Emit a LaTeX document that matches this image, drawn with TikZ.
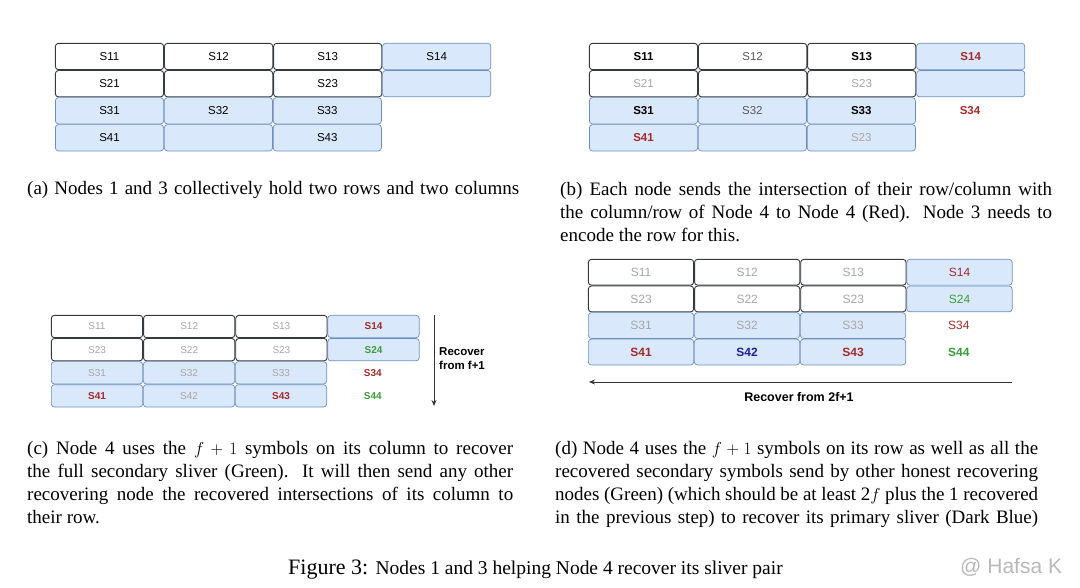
\documentclass[tikz,border=0pt]{standalone}
\usepackage{fontspec}
\setmainfont{Liberation Serif}
\setsansfont{Liberation Sans}
\usepackage{xcolor}
\usetikzlibrary{arrows.meta, positioning}

\definecolor{cellfill}{HTML}{DAE8FC}
\definecolor{celledge}{HTML}{6C8EBF}
\definecolor{gridedge}{HTML}{36393D}
\definecolor{symred}{HTML}{A52A2A}
\definecolor{symgreen}{HTML}{3A9D3A}
\definecolor{symblue}{HTML}{1F1F99}
\definecolor{symgray}{HTML}{A6A6A6}

\begin{document}
\begin{tikzpicture}[
			x=1pt, y=-1pt,
			node distance=0pt,
			cell/.style={rectangle, rounded corners=3pt, inner sep=0pt},
			wcell/.style={cell, draw=gridedge, fill=white, line width=0.9pt},
			bcell/.style={cell, draw=celledge, fill=cellfill, line width=0.7pt},
			ocell/.style={cell},
			faint/.style={text=symgray},
			mid/.style={text=black!65},
			hot/.style={text=symred},
			fresh/.style={text=symgreen},
			prim/.style={text=symblue},
			capt/.style={inner sep=0pt, anchor=north west, align=left,
				font=\fontsize{19}{23}\selectfont},
			note/.style={inner sep=0pt, align=left,
				font=\sffamily\bfseries\fontsize{11.5}{14}\selectfont},
			arr/.style={-{Stealth[length=6pt, width=5pt]}, line width=0.8pt, draw=black!80}
			]
			\useasboundingbox (0,0) rectangle (1080,588);
			
			% (a) what nodes 1 and 3 hold
			\begin{scope}[every node/.append style={minimum width=108.2pt, minimum height=26.3pt,
					font=\sffamily\fontsize{11.5}{13}\selectfont}]
				\node[wcell] (a11) at (109.5,56.5) {S11};
				\node[wcell, right=of a11] (a12) {S12};
				\node[wcell, right=of a12] (a13) {S13};
				\node[bcell, right=of a13] (a14) {S14};
				\node[wcell, below=of a11] (a21) {S21};
				\node[wcell, right=of a21] (a22) {};
				\node[wcell, right=of a22] (a23) {S23};
				\node[bcell, right=of a23] (a24) {};
				\node[bcell, below=of a21] (a31) {S31};
				\node[bcell, right=of a31] (a32) {S32};
				\node[bcell, right=of a32] (a33) {S33};
				\node[bcell, below=of a31] (a41) {S41};
				\node[bcell, right=of a41] (a42) {};
				\node[bcell, right=of a42] (a43) {S43};
			\end{scope}
			
			% (b) intersections sent to node 4
			\begin{scope}[every node/.append style={minimum width=108.2pt, minimum height=26.3pt,
					font=\sffamily\fontsize{11.5}{13}\selectfont}]
				\node[wcell] (b11) at (643.5,56.5) {\bfseries S11};
				\node[wcell, mid, right=of b11] (b12) {S12};
				\node[wcell, right=of b12] (b13) {\bfseries S13};
				\node[bcell, hot, right=of b13] (b14) {\bfseries S14};
				\node[wcell, faint, below=of b11] (b21) {S21};
				\node[wcell, right=of b21] (b22) {};
				\node[wcell, faint, right=of b22] (b23) {S23};
				\node[bcell, right=of b23] (b24) {};
				\node[bcell, below=of b21] (b31) {\bfseries S31};
				\node[bcell, mid, right=of b31] (b32) {S32};
				\node[bcell, right=of b32] (b33) {\bfseries S33};
				\node[ocell, hot, right=of b33] (b34) {\bfseries S34};
				\node[bcell, hot, below=of b31] (b41) {\bfseries S41};
				\node[bcell, right=of b41] (b42) {};
				\node[bcell, faint, right=of b42] (b43) {S23};
			\end{scope}
			
			% (c) column recovery
			\begin{scope}[every node/.append style={minimum width=91.3pt, minimum height=22.3pt,
					font=\sffamily\fontsize{10}{12}\selectfont}]
				\node[wcell, faint] (c11) at (97,326.5) {S11};
				\node[wcell, faint, right=of c11] (c12) {S12};
				\node[wcell, faint, right=of c12] (c13) {S13};
				\node[bcell, hot, right=of c13] (c14) {\bfseries S14};
				\node[wcell, faint, below=of c11] (c21) {S23};
				\node[wcell, faint, right=of c21] (c22) {S22};
				\node[wcell, faint, right=of c22] (c23) {S23};
				\node[bcell, fresh, right=of c23] (c24) {\bfseries S24};
				\node[bcell, faint, below=of c21] (c31) {S31};
				\node[bcell, faint, right=of c31] (c32) {S32};
				\node[bcell, faint, right=of c32] (c33) {S33};
				\node[ocell, hot, right=of c33] (c34) {\bfseries S34};
				\node[bcell, hot, below=of c31] (c41) {\bfseries S41};
				\node[bcell, faint, right=of c41] (c42) {S42};
				\node[bcell, hot, right=of c42] (c43) {\bfseries S43};
				\node[ocell, fresh, right=of c43] (c44) {\bfseries S44};
			\end{scope}
			\coordinate (cTop) at (434,315);
			\coordinate (cBot) at (434,406);
			\draw[arr] (cTop) -- (cBot);
			\node[note, anchor=north west] (cNote) at (439,347) {Recover\\from f+1};
			
			% (d) row recovery
			\begin{scope}[every node/.append style={minimum width=105.3pt, minimum height=25.8pt,
					font=\sffamily\fontsize{12}{14}\selectfont}]
				\node[wcell, faint] (d11) at (641,272.25) {S11};
				\node[wcell, faint, right=of d11] (d12) {S12};
				\node[wcell, faint, right=of d12] (d13) {S13};
				\node[bcell, hot, right=of d13] (d14) {S14};
				\node[wcell, faint, below=of d11] (d21) {S23};
				\node[wcell, faint, right=of d21] (d22) {S22};
				\node[wcell, faint, right=of d22] (d23) {S23};
				\node[bcell, fresh, right=of d23] (d24) {S24};
				\node[bcell, faint, below=of d21] (d31) {S31};
				\node[bcell, faint, right=of d31] (d32) {S32};
				\node[bcell, faint, right=of d32] (d33) {S33};
				\node[ocell, hot, right=of d33] (d34) {S34};
				\node[bcell, hot, below=of d31] (d41) {\bfseries S41};
				\node[bcell, prim, right=of d41] (d42) {\bfseries S42};
				\node[bcell, hot, right=of d42] (d43) {\bfseries S43};
				\node[ocell, fresh, right=of d43] (d44) {\bfseries S44};
			\end{scope}
			\coordinate (dRight) at (1012,382);
			\coordinate (dLeft) at (589,382);
			\draw[arr] (dRight) -- (dLeft);
			\node[note, font=\sffamily\bfseries\fontsize{12.5}{14}\selectfont] (dNote) at (799,397) {Recover from 2f+1};
			
			% sub-captions
			\node[capt, anchor=base west] (capA) at (27,195) {\makebox[492pt][s]{(a) Nodes 1 and 3 collectively hold two rows and two columns}};
			\node[capt] (capB) at (560,182) {\makebox[492pt][s]{(b) Each node sends the intersection of their row/column with}\\
				\makebox[492pt][s]{the column/row of Node 4 to Node 4 (Red). Node 3 needs to}\\
				encode the row for this.};
			\node[capt] (capC) at (27,441) {\makebox[486pt][s]{(c) Node 4 uses the $f+1$ symbols on its column to recover}\\
				\makebox[486pt][s]{the full secondary sliver (Green). It will then send any other}\\
				\makebox[486pt][s]{recovering node the recovered intersections of its column to}\\
				their row.};
			\node[capt] (capD) at (555,441) {\makebox[483pt][s]{(d) Node 4 uses the $f+1$ symbols on its row as well as all the}\\
				\makebox[483pt][s]{recovered secondary symbols send by other honest recovering}\\
				\makebox[483pt][s]{nodes (Green) (which should be at least 2$f$ plus the 1 recovered}\\
				\makebox[483pt][s]{in the previous step) to recover its primary sliver (Dark Blue)}};
			
			% figure caption
			\node[capt, anchor=base west, font=\fontsize{22}{23}\selectfont] (figCap) at (288,574) {Figure 3: {\fontsize{19.5}{23}\selectfont Nodes 1 and 3 helping Node 4 recover its sliver pair}};
			\node[anchor=base west, inner sep=0pt, text=black!28,
				font=\sffamily\fontsize{21}{23}\selectfont] (mark) at (960,573) {@ Hafsa K};
		\end{tikzpicture}
\end{document}
